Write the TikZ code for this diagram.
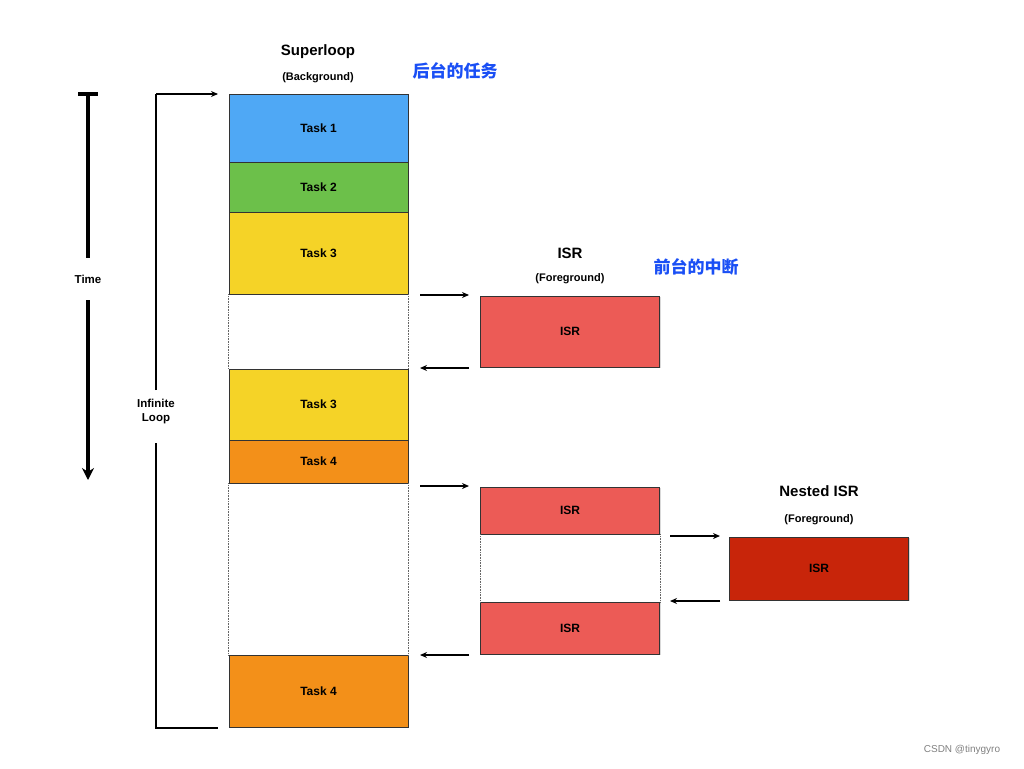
\documentclass[tikz,border=0pt]{standalone}
\usepackage{fontspec}
\setmainfont{Liberation Sans}
\newfontfamily\cjk{Noto Sans CJK SC}
\usetikzlibrary{arrows.meta,shadows}
\definecolor{cblue}{HTML}{4FA8F5}
\definecolor{cgreen}{HTML}{6CC04A}
\definecolor{cyellow}{HTML}{F5D327}
\definecolor{corange}{HTML}{F39019}
\definecolor{cred}{HTML}{EC5B56}
\definecolor{cdred}{HTML}{C8250A}
\definecolor{cnote}{HTML}{1A4FF5}
\begin{document}
\begin{tikzpicture}[x=1pt,y=-1pt,
  box/.style={draw=black!80,line width=0.6pt,font=\bfseries\fontsize{12}{14}\selectfont,drop shadow={shadow xshift=1pt,shadow yshift=-1pt,opacity=0.3}},
  arr/.style={-{Stealth[length=7pt,width=6pt]},line width=1.5pt},
  dots/.style={densely dotted,line width=0.6pt,black!60},
  ttl/.style={font=\bfseries\fontsize{15}{17}\selectfont},
  sub/.style={font=\bfseries\fontsize{11}{13}\selectfont},
  note/.style={text=cnote,font=\cjk\bfseries\fontsize{17}{19}\selectfont},
  lbl/.style={font=\bfseries\fontsize{11.5}{14}\selectfont,align=center}]
\useasboundingbox (0,0) rectangle (1024,768);
% left column
\node[box,fill=cblue,minimum width=179pt,minimum height=68pt] (t1) at (318.5,128) {Task 1};
\node[box,fill=cgreen,minimum width=179pt,minimum height=50pt] (t2) at (318.5,187) {Task 2};
\node[box,fill=cyellow,minimum width=179pt,minimum height=82pt] (t3) at (318.5,253) {Task 3};
\node[box,fill=cyellow,minimum width=179pt,minimum height=71pt] (t3b) at (318.5,404.5) {Task 3};
\node[box,fill=corange,minimum width=179pt,minimum height=43pt] (t4) at (318.5,461.5) {Task 4};
\node[box,fill=corange,minimum width=179pt,minimum height=72pt] (t4b) at (318.5,691) {Task 4};
\draw[dots] (t3.south west) -- (t3b.north west) (t3.south east) -- (t3b.north east);
\draw[dots] (t4.south west) -- (t4b.north west) (t4.south east) -- (t4b.north east);
\node[ttl] (sl) at (318,52) {Superloop};
\node[sub] (bg) at (318,78) {(Background)};
\node[note] (n1) at (455,71) {后台的任务};
% ISR
\node[box,fill=cred,minimum width=179pt,minimum height=71pt] (i1) at (570,331.5) {ISR};
\node[ttl] (il) at (570,253) {ISR};
\node[sub] (if) at (570,279) {(Foreground)};
\node[note] (n2) at (696,267) {前台的中断};
\node[box,fill=cred,minimum width=179pt,minimum height=47pt] (i2) at (570,510.5) {ISR};
\node[box,fill=cred,minimum width=179pt,minimum height=52pt] (i3) at (570,628) {ISR};
\draw[dots] (i2.south west) -- (i3.north west) (i2.south east) -- (i3.north east);
% nested
\node[box,fill=cdred,minimum width=179pt,minimum height=63pt] (ni) at (819,568.5) {ISR};
\node[ttl] (nl) at (819,491) {Nested ISR};
\node[sub] (nf) at (819,520) {(Foreground)};
% arrows
\coordinate (a1) at (420,295); \coordinate (b1) at (469,295);
\coordinate (a2) at (469,368); \coordinate (b2) at (420,368);
\coordinate (a3) at (420,486); \coordinate (b3) at (469,486);
\coordinate (a4) at (469,655); \coordinate (b4) at (420,655);
\coordinate (a5) at (670,536); \coordinate (b5) at (720,536);
\coordinate (a6) at (720,601); \coordinate (b6) at (670,601);
\foreach \p/\q in {a1/b1,a2/b2,a3/b3,a4/b4,a5/b5,a6/b6} \draw[arr] (\p) -- (\q);
% time
\node[lbl] (time) at (88,279) {Time};
\coordinate (tt) at (88,94); \coordinate (tb) at (88,480);
\draw[line width=4pt] (78,94) -- (98,94);
\draw[line width=4pt] (tt) -- (time.north|-0,258);
\draw[line width=4pt,-{Stealth[length=12pt,width=12pt]}] (88,300) -- (tb);
% loop
\node[lbl] (loop) at (156,412) {Infinite\\Loop};
\draw[line width=2pt] (156,390) -- (156,94) coordinate (lt);
\draw[arr] (lt) -- (218,94);
\draw[line width=2pt] (156,443) -- (156,728) -- (218,728);
\node[text=black!50,font=\fontsize{10}{12}\selectfont] (cs) at (962,750) {CSDN @tinygyro};
\end{tikzpicture}
\end{document}
